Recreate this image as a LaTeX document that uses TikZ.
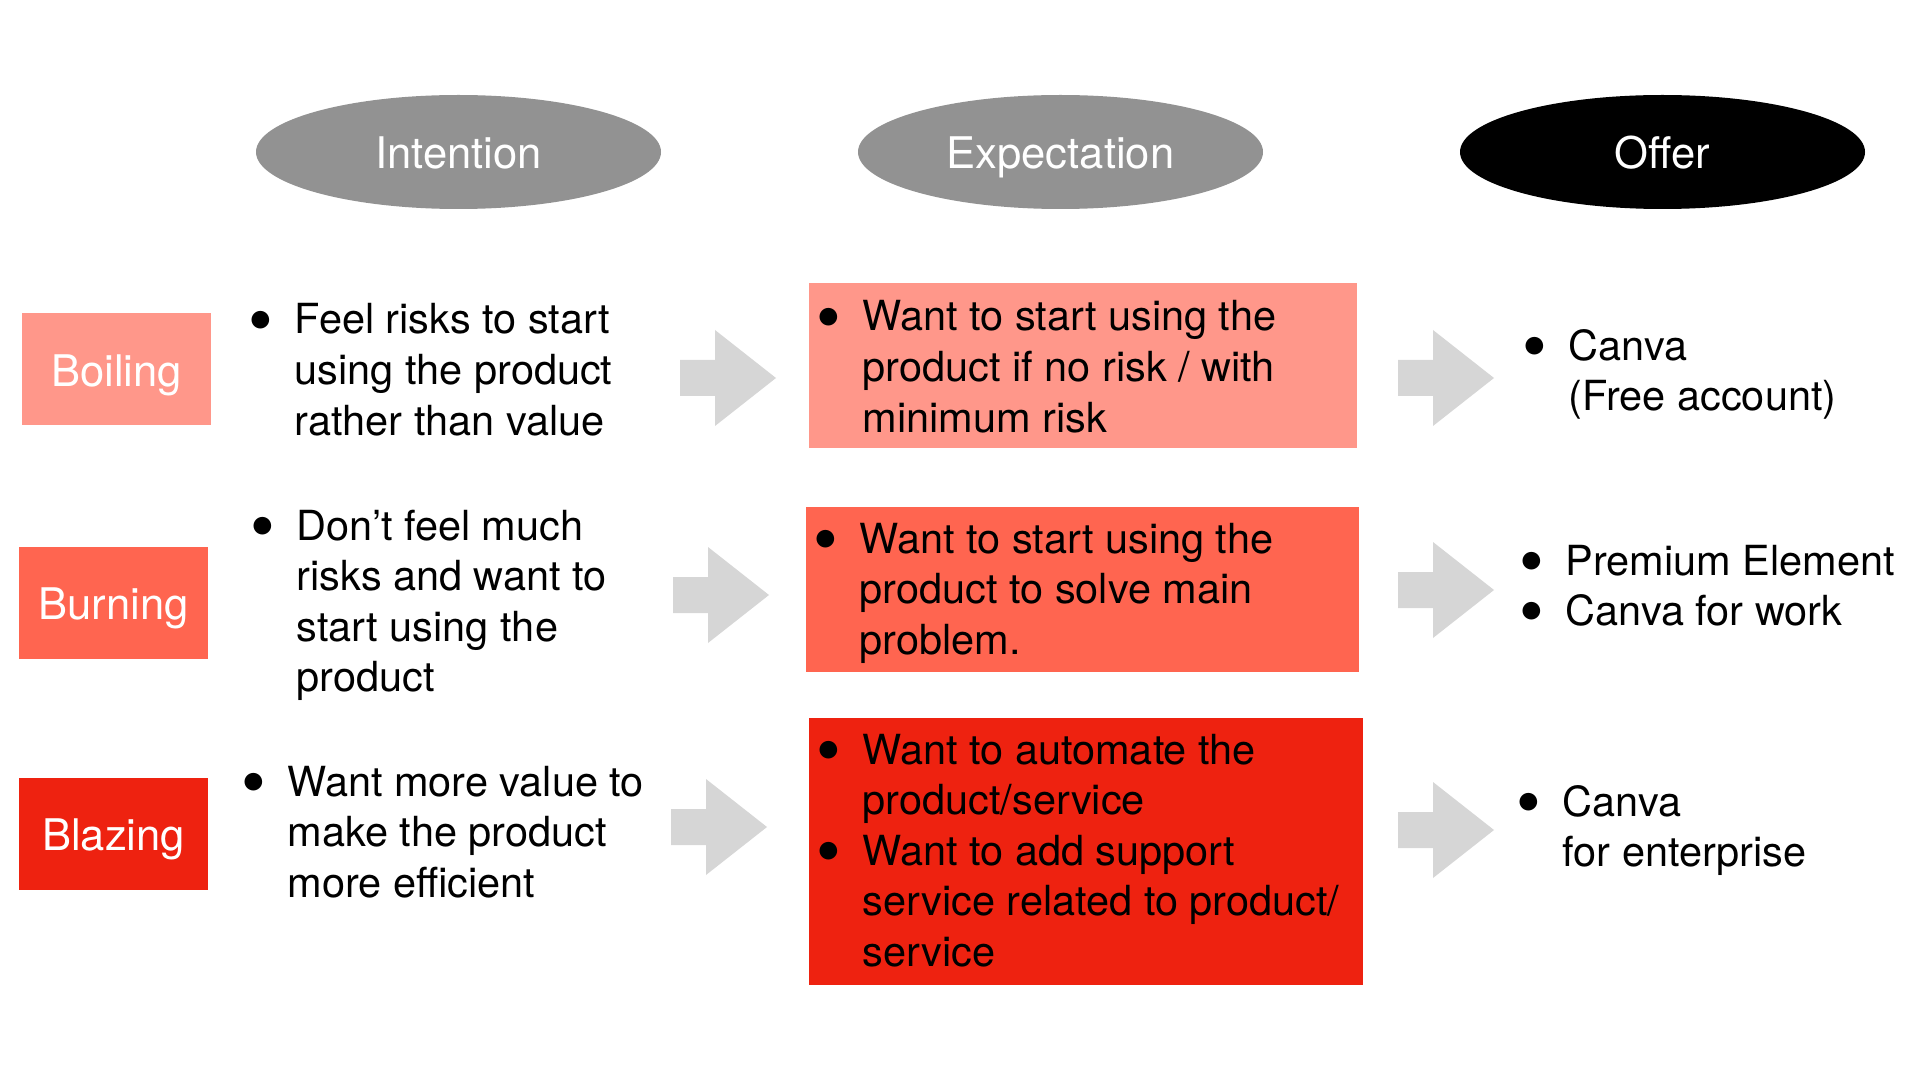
\documentclass[tikz,border=0pt]{standalone}
\usepackage{fontspec}
\setmainfont{TeX Gyre Heros}
\usetikzlibrary{shapes.geometric}
\definecolor{hdrgray}{HTML}{929292}
\definecolor{boilfill}{HTML}{FF978A}
\definecolor{burnfill}{HTML}{FF6550}
\definecolor{blazefill}{HTML}{EE2210}
\definecolor{arrowgray}{HTML}{D6D6D6}
\newcommand{\bul}{\makebox[0.42cm][l]{\hspace*{-0.1em}\smash{\raisebox{-0.25em}{\scalebox{1.7}{\textbullet}}}}}

\begin{document}
\begin{tikzpicture}[
  hdr/.style={ellipse, fill=hdrgray, minimum width=4.05cm, minimum height=1.14cm,
              inner sep=0pt, text=white, text height=9.6pt, text depth=0pt,
              font=\fontsize{12.4}{15}\selectfont},
  lvl/.style={rectangle, minimum width=1.88cm, minimum height=1.12cm, inner sep=0pt,
              text=white, text height=9.8pt, text depth=0pt,
              font=\fontsize{12.4}{15}\selectfont},
  expbox/.style={rectangle, inner sep=0pt},
  txt/.style={anchor=base west, inner sep=0pt, font=\fontsize{11.8}{14.4}\selectfont},
  fatarrow/.style={fill=arrowgray},
]
\useasboundingbox (0,0) rectangle (19.2,-10.8);
% ---- column headers ----
\node[hdr] (hdrint) at ( 4.585,-1.52) {Intention};
\node[hdr] (hdrexp) at (10.605,-1.52) {Expectation};
\node[hdr, fill=black] (hdroff) at (16.625,-1.52) {Offer};
% ---- level labels ----
\node[lvl, fill=boilfill]  (lvlboil)  at (1.165,-3.69)  {Boiling};
\node[lvl, fill=burnfill]  (lvlburn)  at (1.135,-6.025) {Burning};
\node[lvl, fill=blazefill] (lvlblaze) at (1.135,-8.335) {Blazing};
% ---- intention ----
\node[txt] (intboil) at (2.52,-3.34) {\begin{tabular}[t]{@{}l@{}l@{}}
  \bul & Feel risks to start\\ & using the product\\ & rather than value\end{tabular}};
\node[txt] (intburn) at (2.54,-5.40) {\begin{tabular}[t]{@{}l@{}l@{}}
  \bul & Don’t feel much\\ & risks and want to\\ & start using the\\ & product\end{tabular}};
\node[txt] (intblaze) at (2.45,-7.96) {\begin{tabular}[t]{@{}l@{}l@{}}
  \bul & Want more value to\\ & make the product\\ & more efficient\end{tabular}};
% ---- expectation boxes ----
\node[expbox, fill=boilfill,  minimum width=5.48cm, minimum height=1.65cm] (expboxboil)  at (10.83,-3.655) {};
\node[expbox, fill=burnfill,  minimum width=5.53cm, minimum height=1.65cm] (expboxburn)  at (10.825,-5.895) {};
\node[expbox, fill=blazefill, minimum width=5.54cm, minimum height=2.67cm] (expboxblaze) at (10.86,-8.515) {};
\node[txt] (expboil) at (8.20,-3.31) {\begin{tabular}[t]{@{}l@{}l@{}}
  \bul & Want to start using the\\ & product if no risk / with\\ & minimum risk\end{tabular}};
\node[txt] (expburn) at (8.17,-5.53) {\begin{tabular}[t]{@{}l@{}l@{}}
  \bul & Want to start using the\\ & product to solve main\\ & problem.\end{tabular}};
\node[txt] (expblaze) at (8.20,-7.64) {\begin{tabular}[t]{@{}l@{}l@{}}
  \bul & Want to automate the\\ & product/service\\
  \bul & Want to add support\\ & service related to product/\\ & service\end{tabular}};
% ---- offer ----
\node[txt] (offboil) at (15.26,-3.60) {\begin{tabular}[t]{@{}l@{}l@{}}
  \bul & Canva\\ & (Free account)\end{tabular}};
\node[txt] (offburn) at (15.23,-5.75) {\begin{tabular}[t]{@{}l@{}l@{}}
  \bul & Premium Element\\ \bul & Canva for work\end{tabular}};
\node[txt] (offblaze) at (15.20,-8.16) {\begin{tabular}[t]{@{}l@{}l@{}}
  \bul & Canva\\ & for enterprise\end{tabular}};
% ---- block arrows (tail x / tip y) ----
\foreach \x/\y in {6.80/3.78, 6.73/5.95, 6.71/8.27, 13.98/3.78, 13.98/5.90, 13.98/8.30}
  \fill[fatarrow] (\x,-\y+0.18) -- ++(0.35,0) -- ++(0,0.30) -- ++(0.61,-0.48)
    -- ++(-0.61,-0.48) -- ++(0,0.30) -- ++(-0.35,0) -- cycle;
\end{tikzpicture}
\end{document}
